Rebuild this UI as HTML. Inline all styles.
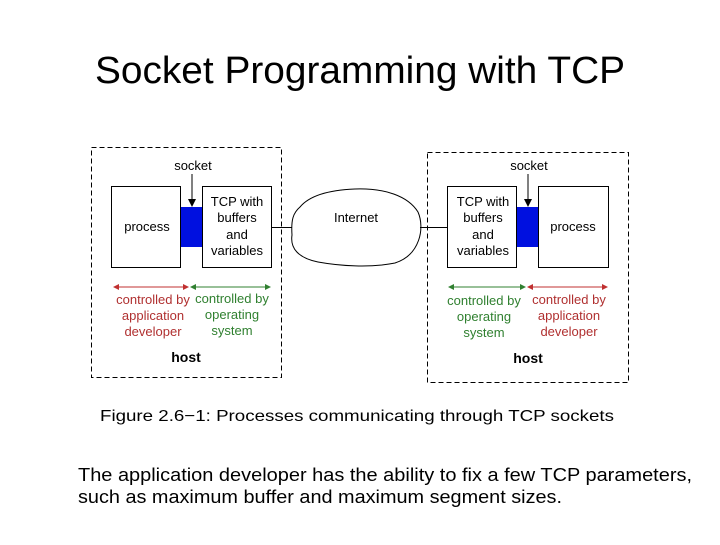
<!DOCTYPE html>
<html><head><style>
body{margin:0;width:720px;height:540px;background:#fff;overflow:hidden;font-family:"Liberation Sans",sans-serif;}
</style></head><body>
<svg width="720" height="540" xmlns="http://www.w3.org/2000/svg" font-family="Liberation Sans, sans-serif">
<defs>
<marker id="ar" markerWidth="6" markerHeight="6" refX="5" refY="3" orient="auto-start-reverse"><path d="M0,0L6,3L0,6z" fill="#c03030"/></marker>
<marker id="ag" markerWidth="6" markerHeight="6" refX="5" refY="3" orient="auto-start-reverse"><path d="M0,0L6,3L0,6z" fill="#308030"/></marker>
<marker id="ab" markerWidth="8" markerHeight="8" refX="6" refY="4" orient="auto"><path d="M0,0L8,4L0,8z" fill="#000"/></marker>
</defs>
<text x="95" y="83" font-size="38" textLength="530" lengthAdjust="spacingAndGlyphs">Socket Programming with TCP</text>
<!-- left host -->
<rect x="91.5" y="147.5" width="190" height="230" fill="none" stroke="#000" stroke-dasharray="5,3"/>
<rect x="111.5" y="186.5" width="69" height="81" fill="#fff" stroke="#000"/>
<rect x="181" y="207" width="21" height="40" fill="#0010e0"/>
<rect x="202.5" y="186.5" width="69" height="81" fill="#fff" stroke="#000"/>
<text x="193" y="170" font-size="13" text-anchor="middle">socket</text>
<line x1="192" y1="174" x2="192" y2="205" stroke="#000" marker-end="url(#ab)"/>
<text x="147" y="231" font-size="13" text-anchor="middle">process</text>
<g font-size="13" text-anchor="middle"><text x="237" y="206">TCP with</text><text x="237" y="222">buffers</text><text x="237" y="239">and</text><text x="237" y="255">variables</text></g>
<line x1="271" y1="227.5" x2="293" y2="227.5" stroke="#000"/>
<line x1="114" y1="287" x2="188" y2="287" stroke="#c03030" marker-end="url(#ar)" marker-start="url(#ar)"/>
<line x1="191" y1="287" x2="270" y2="287" stroke="#308030" marker-end="url(#ag)" marker-start="url(#ag)"/>
<g font-size="13" text-anchor="middle" fill="#b03030"><text x="153" y="304">controlled by</text><text x="153" y="320">application</text><text x="153" y="336">developer</text></g>
<g font-size="13" text-anchor="middle" fill="#308030"><text x="232" y="303">controlled by</text><text x="232" y="319">operating</text><text x="232" y="335">system</text></g>
<text x="186" y="362" font-size="14" font-weight="bold" text-anchor="middle">host</text>
<!-- cloud -->
<path d="M300,207 C310,195 330,190 355,189 C385,188 408,196 418,212 C425,228 420,255 395,263 C370,268 340,266 318,262 C298,258 290,248 292,235 C291,220 293,213 300,207 Z" fill="#fff" stroke="#000"/>
<text x="356" y="222" font-size="13" text-anchor="middle">Internet</text>
<!-- right host -->
<rect x="427.5" y="152.5" width="201" height="230" fill="none" stroke="#000" stroke-dasharray="5,3"/>
<rect x="447.5" y="186.5" width="69" height="81" fill="#fff" stroke="#000"/>
<rect x="517" y="207" width="21" height="40" fill="#0010e0"/>
<rect x="538.5" y="186.5" width="70" height="81" fill="#fff" stroke="#000"/>
<text x="529" y="170" font-size="13" text-anchor="middle">socket</text>
<line x1="528" y1="174" x2="528" y2="205" stroke="#000" marker-end="url(#ab)"/>
<text x="573" y="231" font-size="13" text-anchor="middle">process</text>
<g font-size="13" text-anchor="middle"><text x="483" y="206">TCP with</text><text x="483" y="222">buffers</text><text x="483" y="239">and</text><text x="483" y="255">variables</text></g>
<line x1="420" y1="227.5" x2="447" y2="227.5" stroke="#000"/>
<line x1="449" y1="287" x2="525" y2="287" stroke="#308030" marker-end="url(#ag)" marker-start="url(#ag)"/>
<line x1="528" y1="287" x2="607" y2="287" stroke="#c03030" marker-end="url(#ar)" marker-start="url(#ar)"/>
<g font-size="13" text-anchor="middle" fill="#308030"><text x="484" y="305">controlled by</text><text x="484" y="321">operating</text><text x="484" y="337">system</text></g>
<g font-size="13" text-anchor="middle" fill="#b03030"><text x="569" y="304">controlled by</text><text x="569" y="320">application</text><text x="569" y="336">developer</text></g>
<text x="528" y="363" font-size="14" font-weight="bold" text-anchor="middle">host</text>
<text x="100" y="421" font-size="16" textLength="514" lengthAdjust="spacingAndGlyphs">Figure 2.6−1: Processes communicating through TCP sockets</text>
<text x="78" y="481" font-size="18" textLength="614" lengthAdjust="spacingAndGlyphs">The application developer has the ability to fix a few TCP parameters,</text>
<text x="78" y="503" font-size="18" textLength="484" lengthAdjust="spacingAndGlyphs">such as maximum buffer and maximum segment sizes.</text>
</svg>
</body></html>
